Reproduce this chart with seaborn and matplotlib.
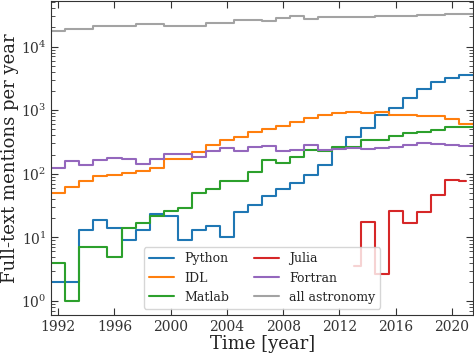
# import libraries
import seaborn as sns
import pandas as pd
import numpy as np
import matplotlib.pyplot as plt

# data (mentions per year, log axis)
years = list(range(1992, 2022))
python = [2, 2, 13, 19, 14, 9, 13, 23, 22, 9, 13, 15, 10, 25, 32, 44, 58, 72, 97, 136,
          255, 372, 534, 853, 1087, 1528, 2190, 2730, 3160, 3640]
idl = [50, 61, 77, 92, 97, 104, 111, 125, 173, 173, 220, 281, 337, 380, 456, 514, 560, 654, 767, 834,
       906, 920, 887, 940, 853, 853, 805, 820, 730, 605]
matlab = [4, 1, 7, 7, 5, 14, 17, 22, 26, 29, 49, 57, 76, 76, 106, 163, 148, 184, 234, 229,
          262, 268, 337, 345, 390, 430, 456, 484, 546, 535]
fortran = [125, 159, 136, 163, 180, 169, 141, 169, 208, 205, 184, 229, 250, 229, 259, 270, 229, 233, 281, 240,
           248, 256, 241, 250, 265, 281, 305, 292, 281, 275]
astro = [17500, 18900, 18900, 21000, 21000, 21000, 22400, 22400, 21300, 21300, 21300, 23700, 23700, 26100, 26100,
         25100, 28400, 30200, 27100, 29500, 29500, 28800, 28800, 30500, 30500, 30500, 31300, 31300, 32500, 32500]
julia_years = list(range(2013, 2022))
julia = [3.6, 17.4, 2.7, 25.7, 16.8, 25.5, 46, 80, 77]

sns.set_style("ticks")
plt.rcParams['font.family'] = ['DejaVu Serif']
plt.rcParams['mathtext.fontset'] = 'dejavuserif'
plt.rcParams['xtick.direction'] = 'in'
plt.rcParams['ytick.direction'] = 'in'

fig = plt.figure(figsize=(4.74, 3.54), dpi=100)
ax = fig.add_axes([0.108, 0.110, 0.890, 0.887])

pal = sns.color_palette("tab10")


def step_line(x, y, label, color, pad=True):
    # full series run edge to edge of the year bins
    if pad:
        x = [x[0] - 0.5] + list(x) + [x[-1] + 0.5]
        y = [y[0]] + list(y) + [y[-1]]
    d = pd.DataFrame({"year": x, "n": y})
    sns.lineplot(data=d, x="year", y="n", ax=ax, color=color, label=label,
                 drawstyle="steps-mid", lw=1.5, estimator=None)


step_line(years, python, "Python", pal[0])
step_line(years, idl, "IDL", pal[1])
step_line(years, matlab, "Matlab", pal[2])
step_line(julia_years, julia, "Julia", pal[3], pad=False)
step_line(years, fortran, "Fortran", pal[4])
step_line(years, astro, "all astronomy", "#a3a3a3")

ax.set_yscale("log")
ax.set_xlim(1991.5, 2021.5)
ax.set_ylim(0.6, 5.2e4)
ax.set_xticks(range(1992, 2021, 4))
ax.tick_params(axis='both', which='both', top=True, right=True, labelsize=10,
               colors='#333333', labelcolor='#333333')
ax.tick_params(axis='x', which='major', length=5)
ax.tick_params(axis='y', which='major', length=5)
ax.tick_params(axis='y', which='minor', length=3)
for s in ax.spines.values():
    s.set_color('#333333')

ax.set_xlabel("Time [year]", fontsize=13, color='#222222', labelpad=1)
ax.set_ylabel("Full-text mentions per year", fontsize=13, color='#222222', labelpad=1)
ax.legend(ncol=2, loc='lower center', fontsize=9)

plt.savefig("out.png", dpi=100)
